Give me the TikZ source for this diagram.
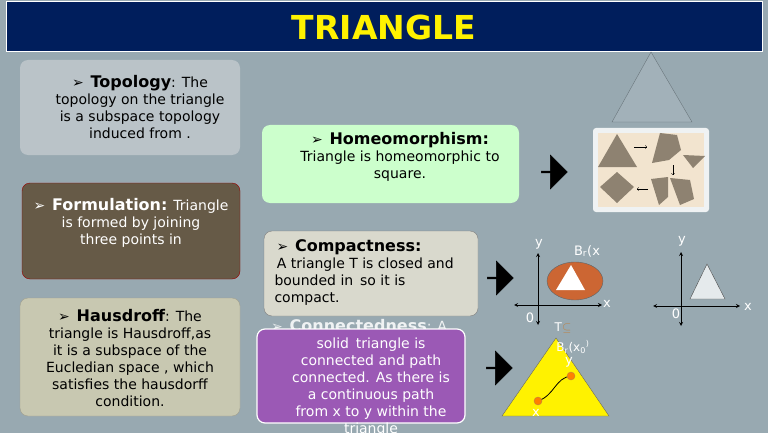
\documentclass[tikz,border=0pt]{standalone}
\usepackage{fontspec}
\setmainfont{DejaVu Sans}
\usetikzlibrary{shapes.arrows}
\lefthyphenmin=64
\definecolor{bg}{HTML}{98A9B1}
\definecolor{navy}{HTML}{001E5C}
\begin{document}
\begin{tikzpicture}[x=1pt,y=-1pt,
  box/.style={rounded corners=8pt,inner sep=0pt},
  txt/.style={align=center,font=\fontsize{14}{17}\selectfont},
  blk/.style={single arrow,fill=black,draw=black,minimum width=34pt,minimum height=26pt,single arrow head extend=4pt,inner sep=0pt},
  ax/.style={thick,<->,>=stealth},
  lbl/.style={text=white,font=\fontsize{13}{14}\selectfont,inner sep=0pt}]
\newcommand\hdf[1]{{\fontsize{16}{17}\selectfont\bfseries #1}}
\fill[bg] (0,0) rectangle (768,433);
\useasboundingbox (0,0) rectangle (768,433);
\fill[navy] (6,2) rectangle (762,52);
\draw[white,line width=1pt] (6,2) rectangle (762,52);
\node (title) at (384,27) {\textcolor{yellow}{\fontsize{33}{35}\selectfont\bfseries TRIANGLE}};
% left boxes
\fill[box,fill=black!8!bg!60!white] (20,60) rectangle (240,155);
\node[txt] (topo) at (140,107) {\textbf{➢} \,\hdf{Topology}: The\\ topology on the triangle\\ is a subspace topology\\ induced from .};
\definecolor{brn}{HTML}{665A47}
\fill[box,fill=brn,draw=red!60!black] (22,183) rectangle (240,279);
\node[txt,text=white,anchor=north] (form) at (131,195) {\textbf{➢} \,\hdf{Formulation:} Triangle\\ is formed by joining\\ three points in};
\definecolor{haus}{HTML}{C8C8B1}
\fill[box,fill=haus,draw=haus!80!black] (20,298) rectangle (240,416);
\node[txt,anchor=north] (haus) at (130,306) {\textbf{➢} \,\hdf{Hausdroff}: The\\ triangle is Hausdroff,as\\ it is a subspace of the\\ Eucledian space , which\\ satisfies the hausdorff\\ condition.};
% middle boxes
\definecolor{lg}{HTML}{CCFFCC}
\fill[box,fill=lg] (262,125) rectangle (519,203);
\node[txt,anchor=north] (homeo) at (400,129) {\textbf{➢} \,\hdf{Homeomorphism:}\\ Triangle is homeomorphic to\\ square.};
\definecolor{cp}{HTML}{D9D9CD}
\fill[box,fill=cp,draw=gray] (264,231) rectangle (478,316);
\node[txt,align=left,anchor=north west] (comp) at (271,236) {\hspace*{2pt}\textbf{➢} \,\hdf{Compactness:}\\ \,A triangle T is closed and\\ bounded in\, so it is\\ compact.};
\node[anchor=west,inner sep=0pt,text=white!85!bg,font=\fontsize{14}{15}\selectfont] (conhead) at (271,326) {\textbf{➢} \,\hdf{Connectedness}: A};
\definecolor{pur}{HTML}{9B59B5}
\fill[box,fill=pur,draw=white,line width=1.2pt] (257,329) rectangle (465,423);
\node[txt,text=white,anchor=north] (conn) at (371,334) {solid\, triangle is\\ connected and path\\ connected. As there is\\ a continuous path\\ from x to y within the\\ triangle};
% arrows
\node[blk] (a1) at (554,172) {};
\node[blk] (a2) at (500,278) {};
\node[blk] (a3) at (499,368) {};
% top right triangle & picture
\fill[bg!90!white,draw=bg!70!black] (651,52) -- (612,122) -- (692,122) -- cycle;
\definecolor{cream}{HTML}{F2E4CF}
\fill[white!85!bg,rounded corners=3pt] (593,128) rectangle (709,212);
\fill[cream] (598,133) rectangle (704,207);
\definecolor{pc}{HTML}{8E8271}
\fill[pc] (617,134) -- (598,167) -- (637,167) -- cycle;
\draw[->,thin] (634,147) -- (647,147);
\fill[pc] (660,133) -- (677,135) -- (681,150) -- (669,160) -- (652,163) -- cycle;
\fill[pc] (683,155) -- (705,156) -- (693,168) -- cycle;
\draw[->,thin] (673,165) -- (673,175);
\fill[pc] (617,172) -- (634,187) -- (617,203) -- (600,187) -- cycle;
\draw[->,thin] (648,189) -- (637,189);
\fill[pc] (651,179) -- (668,177) -- (668,197) -- (659,205) -- cycle;
\fill[pc] (670,178) -- (690,180) -- (694,199) -- (680,205) -- cycle;
% axes 1
\draw[ax] (538,253) -- (538,325);
\draw[ax] (514,305) -- (602,305);
\node[lbl] (y1) at (539,244) {y};
\node[lbl] (x1) at (607,304) {x};
\node[lbl] (z1) at (530,318) {0};
\definecolor{org}{HTML}{CC6633}
\fill[org,draw=bg!60!black] (575,281) ellipse (28pt and 19pt);
\fill[white] (571,265) -- (556,290) -- (585,290) -- cycle;
\node[lbl] (br) at (587,251) {B\textsubscript{r}(x};
% axes 2
\draw[ax] (681,252) -- (681,326);
\draw[ax] (653,306) -- (740,306);
\node[lbl] (y2) at (682,241) {y};
\node[lbl] (x2) at (748,307) {x};
\node[lbl] (z2) at (676,314) {0};
\fill[white!75!bg,draw=black!70] (707,264) -- (690,299) -- (725,299) -- cycle;
% yellow triangle
\fill[yellow,draw=black!60] (556,338) -- (502,416) -- (609,416) -- cycle;
\node[lbl,font=\fontsize{12}{12}\selectfont] (tsub) at (563,328) {T\textcolor{brown}{$\subseteq$}};
\node[lbl,font=\fontsize{12}{12}\selectfont] (bx) at (573,347) {B\textsubscript{r}(x\textsubscript{0}\textsuperscript{)}};
\coordinate (px) at (538,401);
\coordinate (py) at (571,376);
\draw[thick] (px) .. controls (555,395) and (555,378) .. (py);
\fill[orange,draw=brown] (px) circle (4pt) (py) circle (4pt);
\node[lbl] (xl) at (536,413) {x};
\node[lbl] (yl) at (569,362) {y};
\end{tikzpicture}
\end{document}
